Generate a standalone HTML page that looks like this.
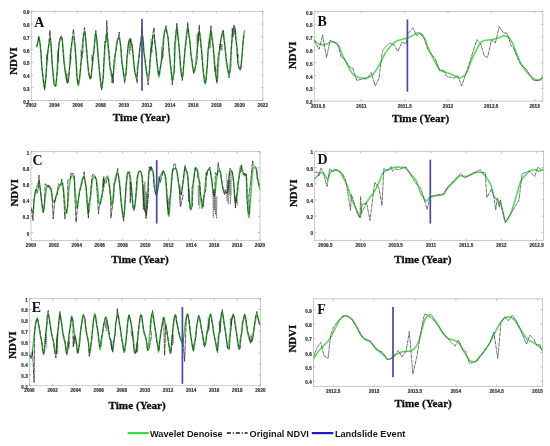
<!DOCTYPE html>
<html><head><meta charset="utf-8"><title>NDVI</title><style>
*{margin:0;padding:0}
html,body{width:550px;height:446px;overflow:hidden;background:#fff}
svg{display:block}
.t{font-family:"Liberation Sans",Arial,sans-serif;font-size:45px;font-weight:bold;fill:#333;stroke:#333;stroke-width:2px;letter-spacing:1px}
.L{font-family:"Liberation Serif","Times New Roman",serif;font-size:15.5px;font-weight:bold;fill:#111}
.N{font-family:"Liberation Serif","Times New Roman",serif;font-size:11.2px;font-weight:bold;fill:#111;stroke:#111;stroke-width:0.3px}
.V{font-size:10.8px}
.g{font-family:"Liberation Sans",Arial,sans-serif;font-size:9.2px;font-weight:bold;fill:#161616}
</style></head><body>
<svg width="550" height="446" viewBox="0 0 550 446">
<rect width="550" height="446" fill="#fff"/>
<defs><clipPath id="cA"><rect x="31.3" y="11.3" width="231.5" height="89.2"/></clipPath><clipPath id="cB"><rect x="314.2" y="11.5" width="228.6" height="89.6"/></clipPath><clipPath id="cC"><rect x="31.0" y="151.6" width="229" height="89"/></clipPath><clipPath id="cD"><rect x="314.6" y="151.3" width="228.9" height="89.1"/></clipPath><clipPath id="cE"><rect x="29.5" y="298.6" width="230.9" height="87.1"/></clipPath><clipPath id="cF"><rect x="313.5" y="298.8" width="228.9" height="87.6"/></clipPath></defs>
<g><rect x="31.3" y="11.3" width="231.5" height="89.2" fill="none" stroke="#c4c4c4" stroke-width="0.9"/><path d="M31.3 100.5h2M262.8 100.5h-2M31.3 87.76h2M262.8 87.76h-2M31.3 75.01h2M262.8 75.01h-2M31.3 62.27h2M262.8 62.27h-2M31.3 49.53h2M262.8 49.53h-2M31.3 36.79h2M262.8 36.79h-2M31.3 24.04h2M262.8 24.04h-2M31.3 11.3h2M262.8 11.3h-2M31.3 100.5v-2M31.3 11.3v2M54.45 100.5v-2M54.45 11.3v2M77.6 100.5v-2M77.6 11.3v2M100.75 100.5v-2M100.75 11.3v2M123.9 100.5v-2M123.9 11.3v2M147.05 100.5v-2M147.05 11.3v2M170.2 100.5v-2M170.2 11.3v2M193.35 100.5v-2M193.35 11.3v2M216.5 100.5v-2M216.5 11.3v2M239.65 100.5v-2M239.65 11.3v2M262.8 100.5v-2M262.8 11.3v2" stroke="#9a9a9a" stroke-width="0.6" fill="none"/><text transform="translate(29.7,103.5) scale(0.1)" text-anchor="end" class="t">0.2</text><text transform="translate(29.7,90.76) scale(0.1)" text-anchor="end" class="t">0.3</text><text transform="translate(29.7,78.01) scale(0.1)" text-anchor="end" class="t">0.4</text><text transform="translate(29.7,65.27) scale(0.1)" text-anchor="end" class="t">0.5</text><text transform="translate(29.7,52.53) scale(0.1)" text-anchor="end" class="t">0.6</text><text transform="translate(29.7,39.79) scale(0.1)" text-anchor="end" class="t">0.7</text><text transform="translate(29.7,27.04) scale(0.1)" text-anchor="end" class="t">0.8</text><text transform="translate(29.7,14.3) scale(0.1)" text-anchor="end" class="t">0.9</text><text transform="translate(31.3,107) scale(0.1)" text-anchor="middle" class="t">2002</text><text transform="translate(54.45,107) scale(0.1)" text-anchor="middle" class="t">2004</text><text transform="translate(77.6,107) scale(0.1)" text-anchor="middle" class="t">2006</text><text transform="translate(100.75,107) scale(0.1)" text-anchor="middle" class="t">2008</text><text transform="translate(123.9,107) scale(0.1)" text-anchor="middle" class="t">2010</text><text transform="translate(147.05,107) scale(0.1)" text-anchor="middle" class="t">2012</text><text transform="translate(170.2,107) scale(0.1)" text-anchor="middle" class="t">2014</text><text transform="translate(193.35,107) scale(0.1)" text-anchor="middle" class="t">2016</text><text transform="translate(216.5,107) scale(0.1)" text-anchor="middle" class="t">2018</text><text transform="translate(239.65,107) scale(0.1)" text-anchor="middle" class="t">2020</text><text transform="translate(262.8,107) scale(0.1)" text-anchor="middle" class="t">2022</text><g clip-path="url(#cA)"><polyline points="37,47.3 37.7,43.12 38.4,39.71 39.1,37.45 39.8,40.86 40.5,48.42 41.2,58.54 41.9,66.93 42.6,74.27 43.3,80.31 44,85.68 44.7,87.5 45.4,82.67 46.1,74.82 46.8,63.61 47.5,55.04 48.2,49.46 48.9,44.04 49.6,39 50.3,39.66 51,46.35 51.7,54.89 52.4,66.19 53.1,74.61 53.8,81.74 54.5,85.22 55.2,86.4 55.9,86.02 56.6,76.66 57.3,66.15 58,56.54 58.7,49.04 59.4,42.81 60.1,38.74 60.8,37.77 61.5,37.41 62.2,39.74 62.9,45.5 63.6,54.17 64.3,63.4 65,69.98 65.7,75.43 66.4,79.39 67.1,82.55 67.8,82.61 68.5,77.7 69.2,70.31 69.9,63.24 70.6,55.36 71.3,48.07 72,42.88 72.7,38.43 73.4,36.5 74.1,39.51 74.8,45.5 75.5,53.38 76.2,63.03 76.9,74.68 77.6,82.06 78.3,85.82 79,83.67 79.7,77.44 80.4,70.28 81.1,60.96 81.8,52.21 82.5,44.37 83.2,38.3 83.9,33.82 84.6,32.08 85.3,36.21 86,42.89 86.7,52.34 87.4,61.6 88.1,68.49 88.8,74.06 89.5,76.99 90.2,78.59 90.9,77.28 91.6,72.13 92.3,66.19 93,59.4 93.7,52.01 94.4,44.95 95.1,37.42 95.8,33.8 96.5,37.18 97.2,43.7 97.9,51.89 98.6,61.52 99.3,69.72 100,77.02 100.7,82.97 101.4,87.85 102.1,87.26 102.8,80.8 103.5,72.4 104.2,61.41 104.9,48.68 105.6,40.06 106.3,34.14 107,34.01 107.7,41.48 108.4,49.62 109.1,58.52 109.8,65.14 110.5,70.67 111.2,74.2 111.9,76.07 112.6,76.9 113.3,74.28 114,68.58 114.7,62.51 115.4,54.85 116.1,48.01 116.8,43.19 117.5,39.33 118.2,38.32 118.9,38.77 119.6,39.74 120.3,43.34 121,50.9 121.7,58.27 122.4,65.58 123.1,70.85 123.8,75.36 124.5,77.75 125.2,76.03 125.9,71.06 126.6,65.24 127.3,56.95 128,48.91 128.7,43.81 129.4,39.72 130.1,38.32 130.8,39.64 131.5,42.34 132.2,46.51 132.9,54.2 133.6,61.6 134.3,67.3 135,72.19 135.7,75.45 136.4,77.65 137.1,75.97 137.8,69.5 138.5,62.49 139.2,55.3 139.9,48.1 140.6,42.09 141.3,36.59 142,35.21 142.7,38.47 143.4,43.56 144.1,51.84 144.8,59.1 145.5,65.28 146.2,70.09 146.9,73.53 147.6,76.2 148.3,76.67 149,72.94 149.7,66.93 150.4,59.66 151.1,50.03 151.8,42.99 152.5,38.21 153.2,35.07 153.9,35.46 154.6,39.4 155.3,44.43 156,51.06 156.7,58.65 157.4,65.75 158.1,73.28 158.8,76.9 159.5,74.75 160.2,69.96 160.9,64.59 161.6,57.5 162.3,50.07 163,42.89 163.7,36.01 164.4,32.14 165.1,29.83 165.8,28.57 166.5,29.37 167.2,32.74 167.9,37.19 168.6,44.26 169.3,52.92 170,60.62 170.7,68.16 171.4,74.2 172.1,78.95 172.8,80.16 173.5,74.79 174.2,65.98 174.9,54.74 175.6,40.4 176.3,31.43 177,27.68 177.7,31.82 178.4,38.64 179.1,48.96 179.8,58.91 180.5,67.91 181.2,73.61 181.9,77.1 182.6,77.03 183.3,70.89 184,62.66 184.7,54.46 185.4,45.42 186.1,38.28 186.8,31.87 187.5,27.86 188.2,28.85 188.9,33.49 189.6,39.11 190.3,46.54 191,54.46 191.7,60.46 192.4,65.65 193.1,69.19 193.8,71.67 194.5,72.14 195.2,68.02 195.9,61.58 196.6,54.66 197.3,46.21 198,39.28 198.7,33.46 199.4,31.17 200.1,34.61 200.8,40.93 201.5,47.74 202.2,56.37 202.9,65.2 203.6,74.56 204.3,81.4 205,83.92 205.7,82 206.4,74.61 207.1,66.53 207.8,57.01 208.5,48.25 209.2,41.75 209.9,35.74 210.6,31.8 211.3,31.57 212,35.47 212.7,41.11 213.4,47.85 214.1,56.36 214.8,63.99 215.5,70.58 216.2,76.96 216.9,83.05 217.6,77.07 218.3,65.2 219,56.65 219.7,49.01 220.4,43.25 221.1,38.64 221.8,35.1 222.5,32.31 223.2,31.18 223.9,35.28 224.6,41.9 225.3,49.98 226,58.76 226.7,64.56 227.4,68.79 228.1,71.83 228.8,74.04 229.5,71.97 230.2,63.98 230.9,55.1 231.6,44.99 232.3,36.5 233,31.14 233.7,27.81 234.4,28.16 235.1,30.31 235.8,35.01 236.5,43.76 237.2,52.01 237.9,60.53 238.6,65.6 239.3,68.08 240,69.54 240.7,68.47 241.4,62.21 242.1,54.5 242.8,45.82 243.5,37.37 244.2,32.55 244.6,30.2" fill="none" stroke="#48c848" stroke-width="1.5" stroke-linejoin="round"/><polyline points="36.71,46.42 37.92,41.43 38.72,35.96 40.25,45.2 41.21,54.51 41.83,67.68 43.22,78.34 44.03,84.84 44.6,90.3 46.02,75.04 46.89,60.2 48.24,48.76 49.1,42.46 49.9,30.2 51.24,45.92 51.85,59.84 53.07,73.07 54.1,84.19 55.35,85.71 55.86,85.04 57.79,68.76 58.09,55.35 58.91,43.51 59.74,40.06 61.21,35.59 62.01,37.55 62.74,46.88 63.73,60.39 64.87,69.46 65.84,74.64 67.26,82.76 68.46,82.07 69.36,69.77 70.18,63.98 70.77,49.27 72.02,40.52 73.4,29.3 74.51,38.56 75.22,47.65 75.93,58.14 77.01,78.52 77.88,83.99 78.77,81.33 79.92,75.58 81.13,61.32 83.06,50.74 83.02,39.04 84.5,27.6 85.42,34.15 86.02,41.92 87.39,57.59 88.17,66.94 88.9,74.04 90.06,78.4 91.01,77.54 91.89,68.13 92.86,56.81 94.08,50.71 95.17,35.09 95.8,30.2 97,41.88 97.63,51.5 99.06,66.37 100.15,76.94 101.04,86.59 101.7,90 103.22,77.31 103.62,65.85 104.88,41.57 106.2,42.01 106.7,20.4 108.09,43.81 109.61,58.46 109.98,66.79 111.24,71.16 112.3,77.09 113.2,83.2 113.52,67.42 114.14,58.47 116.1,50.18 117.51,39.98 118.11,39.13 119.2,32 119.91,40.03 121.13,49.09 121.49,61.26 123.06,69.02 124.01,77.66 124.6,83.2 126.6,71.36 126.62,60.93 127.69,49.29 128.68,40.77 130.32,39.29 130.79,42.63 132.16,44.48 133.14,54.61 134.06,64.69 134.69,71.56 135.85,75.7 137.2,83.2 137.3,66.66 138.44,61.65 139.92,47.18 141.31,39.28 141.8,26 143.18,40.12 143.74,52.46 145.23,60.12 146.14,67.87 146.62,73.51 148.1,85 149.76,70.64 149.68,64.23 151.03,47.85 152.57,44.24 152.54,35.56 154,27.6 154.69,41.1 155.86,50.56 156.86,61.31 158.15,70.97 159.08,75.29 159.57,71.14 161.24,62.65 162.95,55.32 163.49,45.1 164.32,33.9 165.01,30.79 166,25.8 166.77,32.43 168.18,37.93 168.98,49.86 170.27,62.7 171.11,68.07 172.3,85 173.05,77.25 174.67,70.07 174.2,48.63 175.8,33.98 176.9,23.1 177.64,35.41 179.23,47.47 180.31,60.55 181.19,71.68 182.3,80.5 182.98,74.05 184.1,59.35 184.65,52.38 186.31,39.91 187.28,31.56 187.7,22.2 188.87,35.37 190.02,41.71 190.96,55.2 192.43,62.19 193.04,69.68 193.55,73.43 195.19,68.01 197.08,60.54 197.4,49.93 198.34,41.46 199.3,24.9 199.53,32.28 200.57,43.4 201.7,54.76 202.97,69.18 204.07,77.05 205.21,83.08 205.88,81.52 207.47,64.67 207.83,51.03 208.69,44.68 210.3,36.76 211,25.8 211.35,36.17 212.75,43.78 214.02,57.11 214.26,65.93 215.91,76.29 216.91,81.89 217.37,69.44 218.1,56.39 219.77,48.91 220.76,40.43 222.44,33.01 223.1,30.2 223.62,37.19 224.79,46.02 226.17,58.43 227.46,66.27 228.09,69.21 229,77.8 230.92,67.11 230.99,51.94 231.88,40.87 232.61,29.17 233.9,25 235.52,29.32 235.66,39.92 237,47.48 237.66,62.29 239.03,68.33 240.28,70.13 240.93,67.99 242.18,54.22 243.17,40.18 244.11,34.72" fill="none" stroke="#262626" stroke-width="0.8" stroke-dasharray="4,0.5,1,0.5" stroke-linejoin="round"/><polyline points="46.3,54.38 46.85,59.61 47.4,53.16 47.95,61.8" fill="none" stroke="#262626" stroke-width="0.5" stroke-dasharray="1.5,0.6"/><polyline points="57.3,50.23 57.85,60.39 58.4,51.72 58.95,61.81" fill="none" stroke="#262626" stroke-width="0.5" stroke-dasharray="1.5,0.6"/><polyline points="66,70.26 66.55,79.75 67.1,73.42 67.65,83.77" fill="none" stroke="#262626" stroke-width="0.5" stroke-dasharray="1.5,0.6"/><polyline points="69.8,54.52 70.35,59.59 70.9,56.14 71.45,60.05" fill="none" stroke="#262626" stroke-width="0.5" stroke-dasharray="1.5,0.6"/><polyline points="80.6,50.24 81.15,56.45 81.7,51.13 82.25,57.81" fill="none" stroke="#262626" stroke-width="0.5" stroke-dasharray="1.5,0.6"/><polyline points="91.3,54.75 91.85,61.14 92.4,55.77 92.95,61.8" fill="none" stroke="#262626" stroke-width="0.5" stroke-dasharray="1.5,0.6"/><polyline points="89.5,77.19 90.05,79.48 90.6,76.4 91.15,79.43" fill="none" stroke="#262626" stroke-width="0.5" stroke-dasharray="1.5,0.6"/><polyline points="111.2,74.66 111.75,82.92 112.3,73.97 112.85,82.99 113.4,73.11" fill="none" stroke="#262626" stroke-width="0.5" stroke-dasharray="1.5,0.6"/><polyline points="129.1,39.9 129.65,54.65 130.2,39.16 130.75,50.64 131.3,39.1" fill="none" stroke="#262626" stroke-width="0.5" stroke-dasharray="1.5,0.6"/><polyline points="150.8,39.04 151.35,53.11 151.9,41.14 152.45,52.41" fill="none" stroke="#262626" stroke-width="0.5" stroke-dasharray="1.5,0.6"/><polyline points="161.5,47.24 162.05,59.32 162.6,50.2 163.15,58.34" fill="none" stroke="#262626" stroke-width="0.5" stroke-dasharray="1.5,0.6"/><polyline points="196.6,35.13 197.15,44.01 197.7,33.06 198.25,41.08 198.8,33.36" fill="none" stroke="#262626" stroke-width="0.5" stroke-dasharray="1.5,0.6"/><polyline points="209.2,38.32 209.75,48.68 210.3,38.99 210.85,48.48" fill="none" stroke="#262626" stroke-width="0.5" stroke-dasharray="1.5,0.6"/><polyline points="214.7,67.95 215.25,72.25 215.8,65.76 216.35,71.66" fill="none" stroke="#262626" stroke-width="0.5" stroke-dasharray="1.5,0.6"/><polyline points="219.2,44.12 219.75,48.84 220.3,43.46 220.85,50.3 221.4,44.02 221.95,50.66 222.5,44.18" fill="none" stroke="#262626" stroke-width="0.5" stroke-dasharray="1.5,0.6"/><polyline points="231.7,28.67 232.25,36.42 232.8,29.35 233.35,37.19 233.9,27.64 234.45,34.65 235,27.6" fill="none" stroke="#262626" stroke-width="0.5" stroke-dasharray="1.5,0.6"/><polyline points="237.1,53.5 237.65,58.86 238.2,54.29 238.75,57.53" fill="none" stroke="#262626" stroke-width="0.5" stroke-dasharray="1.5,0.6"/></g><line x1="142" y1="19.1" x2="142" y2="90.7" stroke="#4646b4" stroke-width="1.7"/><text transform="translate(34.3,27.1) scale(0.9,1)" class="L">A</text><text transform="translate(16.6,61) rotate(-90)" text-anchor="middle" class="N V">NDVI</text><text x="141.4" y="120.7" text-anchor="middle" class="N">Time (Year)</text></g>
<g><rect x="314.2" y="11.5" width="228.6" height="89.6" fill="none" stroke="#c4c4c4" stroke-width="0.9"/><path d="M314.2 101.1h2M542.8 101.1h-2M314.2 88.3h2M542.8 88.3h-2M314.2 75.5h2M542.8 75.5h-2M314.2 62.7h2M542.8 62.7h-2M314.2 49.9h2M542.8 49.9h-2M314.2 37.1h2M542.8 37.1h-2M314.2 24.3h2M542.8 24.3h-2M314.2 11.5h2M542.8 11.5h-2M318.1 101.1v-2M318.1 11.5v2M361.4 101.1v-2M361.4 11.5v2M404.7 101.1v-2M404.7 11.5v2M448 101.1v-2M448 11.5v2M491.3 101.1v-2M491.3 11.5v2M534.6 101.1v-2M534.6 11.5v2" stroke="#9a9a9a" stroke-width="0.6" fill="none"/><text transform="translate(312.6,104.1) scale(0.1)" text-anchor="end" class="t">0.2</text><text transform="translate(312.6,91.3) scale(0.1)" text-anchor="end" class="t">0.3</text><text transform="translate(312.6,78.5) scale(0.1)" text-anchor="end" class="t">0.4</text><text transform="translate(312.6,65.7) scale(0.1)" text-anchor="end" class="t">0.5</text><text transform="translate(312.6,52.9) scale(0.1)" text-anchor="end" class="t">0.6</text><text transform="translate(312.6,40.1) scale(0.1)" text-anchor="end" class="t">0.7</text><text transform="translate(312.6,27.3) scale(0.1)" text-anchor="end" class="t">0.8</text><text transform="translate(312.6,14.5) scale(0.1)" text-anchor="end" class="t">0.9</text><text transform="translate(318.1,107.6) scale(0.1)" text-anchor="middle" class="t">2010.5</text><text transform="translate(361.4,107.6) scale(0.1)" text-anchor="middle" class="t">2011</text><text transform="translate(404.7,107.6) scale(0.1)" text-anchor="middle" class="t">2011.5</text><text transform="translate(448,107.6) scale(0.1)" text-anchor="middle" class="t">2012</text><text transform="translate(491.3,107.6) scale(0.1)" text-anchor="middle" class="t">2012.5</text><text transform="translate(534.6,107.6) scale(0.1)" text-anchor="middle" class="t">2013</text><g clip-path="url(#cB)"><polyline points="314.2,39.6 314.9,40.56 315.6,41.6 316.3,42.52 317,43.14 317.7,43.49 318.4,43.81 319.1,44.09 319.8,44.33 320.5,44.53 321.2,44.68 321.9,44.77 322.6,44.8 323.3,44.76 324,44.64 324.7,44.46 325.4,44.24 326.1,44 326.8,43.76 327.5,43.53 328.2,43.23 328.9,42.87 329.6,42.49 330.3,42.14 331,41.87 331.7,41.72 332.4,41.72 333.1,41.81 333.8,41.98 334.5,42.21 335.2,42.49 335.9,42.8 336.6,43.27 337.3,44 338,44.93 338.7,46.03 339.4,47.31 340.1,49.22 340.8,51.38 341.5,53.23 342.2,54.73 342.9,56.09 343.6,57.4 344.3,58.71 345,60.1 345.7,61.54 346.4,62.99 347.1,64.42 347.8,65.8 348.5,67.1 349.2,68.37 349.9,69.65 350.6,70.87 351.3,71.99 352,72.95 352.7,73.71 353.4,74.39 354.1,75.03 354.8,75.61 355.5,76.11 356.2,76.52 356.9,76.83 357.6,77.05 358.3,77.26 359,77.45 359.7,77.62 360.4,77.78 361.1,77.9 361.8,78 362.5,78.07 363.2,78.1 363.9,78.09 364.6,78.06 365.3,78 366,77.93 366.7,77.84 367.4,77.73 368.1,77.53 368.8,77.25 369.5,76.9 370.2,76.5 370.9,76.06 371.6,75.59 372.3,74.98 373,74.25 373.7,73.41 374.4,72.5 375.1,71.55 375.8,70.58 376.5,69.59 377.2,68.52 377.9,67.38 378.6,66.18 379.3,64.94 380,63.68 380.7,62.4 381.4,61.05 382.1,59.6 382.8,58.09 383.5,56.59 384.2,55.16 384.9,53.84 385.6,52.69 386.3,51.63 387,50.62 387.7,49.66 388.4,48.75 389.1,47.9 389.8,47.08 390.5,46.32 391.2,45.59 391.9,44.87 392.6,44.17 393.3,43.49 394,42.85 394.7,42.28 395.4,41.77 396.1,41.35 396.8,41.02 397.5,40.73 398.2,40.47 398.9,40.24 399.6,40.03 400.3,39.83 401,39.64 401.7,39.46 402.4,39.28 403.1,39.1 403.8,38.94 404.5,38.79 405.2,38.65 405.9,38.5 406.6,38.33 407.3,38.13 408,37.88 408.7,37.56 409.4,37.19 410.1,36.79 410.8,36.39 411.5,36 412.2,35.65 412.9,35.29 413.6,34.88 414.3,34.47 415,34.06 415.7,33.69 416.4,33.36 417.1,33.11 417.8,32.95 418.5,32.9 419.2,33 419.9,33.24 420.6,33.58 421.3,33.98 422,34.5 422.7,35.36 423.4,36.45 424.1,37.69 424.8,38.99 425.5,40.51 426.2,42.29 426.9,44.16 427.6,45.98 428.3,47.63 429,49.22 429.7,50.78 430.4,52.31 431.1,53.81 431.8,55.3 432.5,56.79 433.2,58.28 433.9,59.74 434.6,61.15 435.3,62.49 436,63.73 436.7,65 437.4,66.28 438.1,67.5 438.8,68.59 439.5,69.5 440.2,70.17 440.9,70.58 441.6,70.93 442.3,71.21 443,71.46 443.7,71.68 444.4,71.88 445.1,72.08 445.8,72.29 446.5,72.53 447.2,72.79 447.9,73.05 448.6,73.3 449.3,73.56 450,73.83 450.7,74.09 451.4,74.36 452.1,74.64 452.8,74.92 453.5,75.22 454.2,75.59 454.9,75.99 455.6,76.4 456.3,76.81 457,77.17 457.7,77.47 458.4,77.69 459.1,77.79 459.8,77.77 460.5,77.64 461.2,77.42 461.9,77.14 462.6,76.81 463.3,76.45 464,75.94 464.7,75.23 465.4,74.37 466.1,73.38 466.8,72.29 467.5,71.07 468.2,69.46 468.9,67.56 469.6,65.48 470.3,63.37 471,61.34 471.7,59.53 472.4,57.95 473.1,56.45 473.8,55.01 474.5,53.62 475.2,52.26 475.9,50.93 476.6,49.61 477.3,48.24 478,46.85 478.7,45.53 479.4,44.38 480.1,43.49 480.8,42.73 481.5,42.03 482.2,41.43 482.9,40.97 483.6,40.7 484.3,40.55 485,40.43 485.7,40.33 486.4,40.25 487.1,40.18 487.8,40.12 488.5,40.06 489.2,39.99 489.9,39.91 490.6,39.82 491.3,39.7 492,39.59 492.7,39.46 493.4,39.33 494.1,39.19 494.8,39.04 495.5,38.88 496.2,38.71 496.9,38.53 497.6,38.31 498.3,38.01 499,37.67 499.7,37.3 500.4,36.92 501.1,36.55 501.8,36.23 502.5,35.96 503.2,35.78 503.9,35.7 504.6,35.74 505.3,35.87 506,36.09 506.7,36.37 507.4,36.7 508.1,37.05 508.8,37.59 509.5,38.35 510.2,39.29 510.9,40.36 511.6,41.5 512.3,42.73 513,44.24 513.7,45.97 514.4,47.81 515.1,49.65 515.8,51.4 516.5,53.1 517.2,54.83 517.9,56.57 518.6,58.28 519.3,59.9 520,61.41 520.7,62.77 521.4,64.05 522.1,65.26 522.8,66.42 523.5,67.52 524.2,68.56 524.9,69.55 525.6,70.49 526.3,71.37 527,72.23 527.7,73.04 528.4,73.82 529.1,74.57 529.8,75.27 530.5,75.93 531.2,76.55 531.9,77.14 532.6,77.77 533.3,78.41 534,79 534.7,79.5 535.4,79.85 536.1,80 536.8,79.99 537.5,79.95 538.2,79.87 538.9,79.77 539.6,79.63 540.3,79.47 541,79.26 541.7,78.58 542.4,77.54 542.8,77" fill="none" stroke="#5cd85c" stroke-width="1.6" stroke-linejoin="round"/><polyline points="314.2,40.4 319.1,49.5 322.6,34.9 326.5,57.7 330.1,40.1 335.9,43.6 338.3,45.9 341.4,57.4 343.8,58.5 350.5,67.9 352.7,67.9 356.8,80.5 362.6,78.9 366.5,78.9 371.3,72.6 375.2,86 379.1,78.1 382.3,51.4 385.4,46.7 390.1,42.8 394.1,45.1 398,51.4 401.9,42 406.1,43.9 408.2,33.4 412.9,27.9 416.8,35.7 420,33.4 423.9,38.1 427.9,49.8 431.8,55.3 434.9,57.7 439.6,70.3 443.6,70.3 446.7,76.5 450.6,77.3 454.6,78.1 457.7,75.3 461.6,86 467.1,70.3 472.6,53 476.9,39.6 480.5,43.5 484.4,56.1 487.6,57.4 491.5,40.1 495.4,42.8 499.3,26.6 503.3,32.9 507.2,33.3 511.1,45.9 513.5,47.9 519,61.6 522.1,66.3 526,68.7 529.9,74.9 533.4,80.4 540.1,80.4 542.8,76.5" fill="none" stroke="#505050" stroke-width="0.85" stroke-dasharray="3,0.5,1,0.5" stroke-linejoin="round"/></g><line x1="407.4" y1="19.5" x2="407.4" y2="91.7" stroke="#4646b4" stroke-width="1.7"/><text transform="translate(317.5,25.9) scale(0.9,1)" class="L">B</text><text transform="translate(296.20000000000005,55.3) rotate(-90)" text-anchor="middle" class="N V">NDVI</text><text x="420.6" y="122.0" text-anchor="middle" class="N">Time (Year)</text></g>
<g><rect x="31" y="151.6" width="229" height="89" fill="none" stroke="#c4c4c4" stroke-width="0.9"/><path d="M31 232.51h2M260 232.51h-2M31 216.33h2M260 216.33h-2M31 200.15h2M260 200.15h-2M31 183.96h2M260 183.96h-2M31 167.78h2M260 167.78h-2M31 151.6h2M260 151.6h-2M31 240.6v-2M31 151.6v2M53.9 240.6v-2M53.9 151.6v2M76.8 240.6v-2M76.8 151.6v2M99.7 240.6v-2M99.7 151.6v2M122.6 240.6v-2M122.6 151.6v2M145.5 240.6v-2M145.5 151.6v2M168.4 240.6v-2M168.4 151.6v2M191.3 240.6v-2M191.3 151.6v2M214.2 240.6v-2M214.2 151.6v2M237.1 240.6v-2M237.1 151.6v2M260 240.6v-2M260 151.6v2" stroke="#9a9a9a" stroke-width="0.6" fill="none"/><text transform="translate(29.4,235.51) scale(0.1)" text-anchor="end" class="t">0</text><text transform="translate(29.4,219.33) scale(0.1)" text-anchor="end" class="t">0.2</text><text transform="translate(29.4,203.15) scale(0.1)" text-anchor="end" class="t">0.4</text><text transform="translate(29.4,186.96) scale(0.1)" text-anchor="end" class="t">0.6</text><text transform="translate(29.4,170.78) scale(0.1)" text-anchor="end" class="t">0.8</text><text transform="translate(29.4,154.6) scale(0.1)" text-anchor="end" class="t">1</text><text transform="translate(31,247.1) scale(0.1)" text-anchor="middle" class="t">2000</text><text transform="translate(53.9,247.1) scale(0.1)" text-anchor="middle" class="t">2002</text><text transform="translate(76.8,247.1) scale(0.1)" text-anchor="middle" class="t">2004</text><text transform="translate(99.7,247.1) scale(0.1)" text-anchor="middle" class="t">2006</text><text transform="translate(122.6,247.1) scale(0.1)" text-anchor="middle" class="t">2008</text><text transform="translate(145.5,247.1) scale(0.1)" text-anchor="middle" class="t">2010</text><text transform="translate(168.4,247.1) scale(0.1)" text-anchor="middle" class="t">2012</text><text transform="translate(191.3,247.1) scale(0.1)" text-anchor="middle" class="t">2014</text><text transform="translate(214.2,247.1) scale(0.1)" text-anchor="middle" class="t">2016</text><text transform="translate(237.1,247.1) scale(0.1)" text-anchor="middle" class="t">2018</text><text transform="translate(260,247.1) scale(0.1)" text-anchor="middle" class="t">2020</text><g clip-path="url(#cC)"><polyline points="31.2,207.5 31.9,210.15 32.6,212.52 33.3,211.59 34,201.81 34.7,193.7 35.4,191.63 36.1,190.22 36.8,188.21 37.5,185.45 38.2,182.97 38.9,181.9 39.6,184.48 40.3,189.79 41,195.3 41.7,202.63 42.4,209.29 43.1,212.2 43.8,209.72 44.5,203.96 45.2,197.44 45.9,192.42 46.6,187.69 47.3,185.3 48,185.47 48.7,185.89 49.4,186.46 50.1,187.42 50.8,188.87 51.5,192.69 52.2,197.88 52.9,201.63 53.6,201.97 54.3,201.27 55,200.23 55.7,198.07 56.4,195.02 57.1,192.13 57.8,190.2 58.5,188.63 59.2,187.28 59.9,186.1 60.6,184.9 61.3,183.73 62,182.9 62.7,183.02 63.4,188.14 64.1,196.43 64.8,203.95 65.5,208.62 66.2,212.45 66.9,213.09 67.6,206.75 68.3,196.81 69,188.6 69.7,183.06 70.4,178.74 71.1,176.79 71.8,175.59 72.5,175.21 73.2,176.05 73.9,177.86 74.6,182.16 75.3,191.03 76,199.16 76.7,206.98 77.4,208.11 78.1,202.73 78.8,195.9 79.5,191.41 80.2,187.85 80.9,184.91 81.6,182.05 82.3,179.46 83,177.88 83.7,177.87 84.4,178.85 85.1,180.52 85.8,185.74 86.5,193.34 87.2,201.71 87.9,211.06 88.6,213.61 89.3,208.91 90,201.11 90.7,193.61 91.4,188.14 92.1,182.58 92.8,178.31 93.5,176.9 94.2,176.98 94.9,177.19 95.6,177.52 96.3,178.86 97,183.75 97.7,189.38 98.4,196.62 99.1,203.16 99.8,204.35 100.5,203.03 101.2,200.71 101.9,197.55 102.6,190.43 103.3,184.03 104,181.85 104.7,180.41 105.4,179.3 106.1,178.14 106.8,176.8 107.5,176.02 108.2,177.57 108.9,181.72 109.6,186.69 110.3,194.18 111,201.49 111.7,205.33 112.4,203.22 113.1,196.94 113.8,189.56 114.5,183.9 115.2,178.84 115.9,175.41 116.6,174.28 117.3,173.61 118,173.84 118.7,176.64 119.4,180.9 120.1,189.05 120.8,198.39 121.5,204.94 122.2,211.13 122.9,215.72 123.6,217.12 124.3,212.57 125,203.55 125.7,193.49 126.4,184.93 127.1,175.61 127.8,171.81 128.5,172.37 129.2,173.68 129.9,175.59 130.6,178.51 131.3,185.34 132,193.08 132.7,202.7 133.4,210 134.1,209.65 134.8,206.17 135.5,201.04 136.2,195.4 136.9,187.4 137.6,178.54 138.3,173.48 139,171 139.7,171.1 140.4,171.4 141.1,171.95 141.8,176.12 142.5,183.23 143.2,192.3 143.9,203.94 144.6,209.58 145.3,211.67 146,211.74 146.7,204.92 147.4,195.4 148.1,183.99 148.8,173.12 149.5,169.85 150.2,168.35 150.9,167.64 151.6,167.86 152.3,168.96 153,170.85 153.7,176.28 154.4,182.82 155.1,188.83 155.8,194.28 156.5,195.06 157.2,192.24 157.9,187.99 158.6,184.04 159.3,181.02 160,178.06 160.7,175.56 161.4,173.91 162.1,172.61 162.8,171.57 163.5,171.03 164.2,171.9 164.9,175.33 165.6,180.04 166.3,188.23 167,197.53 167.7,206.84 168.4,215.43 169.1,216.1 169.8,207.61 170.5,197 171.2,185.56 171.9,174.85 172.6,170.84 173.3,168.85 174,168.5 174.7,168.5 175.4,168.5 176.1,168.5 176.8,170.49 177.5,175.61 178.2,180.6 178.9,186.11 179.6,190.3 180.3,192.85 181,194.4 181.7,193.08 182.4,188.16 183.1,182.91 183.8,176.18 184.5,169.88 185.2,167.62 185.9,168.81 186.6,171.32 187.3,174.56 188,180.25 188.7,187.54 189.4,197.5 190.1,208.19 190.8,209.9 191.5,204.85 192.2,197.06 192.9,189.49 193.6,182.58 194.3,174.9 195,169.1 195.7,167.63 196.4,168.15 197.1,169.13 197.8,171.36 198.5,175.64 199.2,181.13 199.9,189.35 200.6,197 201.3,203.41 202,208.2 202.7,207.82 203.4,202.55 204.1,195.19 204.8,188.6 205.5,182.68 206.2,176.61 206.9,172.15 207.6,170.64 208.3,169.96 209,169.49 209.7,169.3 210.4,170.62 211.1,174.5 211.8,179.37 212.5,187.5 213.2,192.92 213.9,195.51 214.6,195.86 215.3,190.93 216,184.35 216.7,178.6 217.4,172.78 218.1,170.1 218.8,170.34 219.5,170.99 220.2,172 220.9,175.61 221.6,180.66 222.3,185.14 223,189.57 223.7,191.42 224.4,192.06 225.1,192.52 225.8,192.8 226.5,192.9 227.2,192.05 227.9,189.84 228.6,184.04 229.3,172.87 230,171.45 230.7,171.14 231.4,171.01 232.1,171.78 232.8,174.74 233.5,179.51 234.2,190.11 234.9,200.05 235.6,201.85 236.3,199.68 237,196.06 237.7,191.28 238.4,182.78 239.1,175.2 239.8,170 240.5,166.35 241.2,166.29 241.9,168.22 242.6,170.39 243.3,173.03 244,175.06 244.7,174.85 245.4,173.85 246.1,174.36 246.8,185.25 247.5,198.54 248.2,213.52 248.9,217.72 249.6,211.68 250.3,201.79 251,192.5 251.7,182.14 252.4,172.1 253.1,167.6 253.8,167.65 254.5,167.81 255.2,168.07 255.9,168.44 256.6,170.72 257.3,176.1 258,181.35 258.7,184.69 259.4,187.55 260,190" fill="none" stroke="#48c848" stroke-width="1.5" stroke-linejoin="round"/><polyline points="30.89,208.62 31.7,210.12 33,220.6 33.9,200.99 35.44,190.92 36.14,189.05 36.97,193.46 38.49,188.44 38.9,175.2 40.13,188.09 41.33,198.58 41.93,203.07 43.45,212.39 44.41,204.77 44.95,193.36 45.15,183.74 48.47,187.49 48.23,185.75 50.21,186.58 49.98,189.28 51.48,189.03 52.06,195.41 53.2,218.9 54.74,200.3 54.67,202.32 56.13,195.37 57.35,194.61 58.31,183.86 59.75,185.22 61.09,182.37 61.85,179.1 62.29,186.5 63.09,187.88 63.83,196.12 64.8,218.9 66.03,212.33 67.55,207.18 67.82,200.37 67.78,180.12 70.71,178.27 70.67,173.16 71.77,173.84 73.13,173.39 74.36,175.78 74.4,187.76 76.1,222.3 77.26,208.13 77.95,201.98 78.41,199.84 79.73,191.24 82.24,182.76 81.91,182.17 83.59,175.73 84.2,171.8 85.05,182.07 86.35,187.33 87.05,203.22 88.4,218.1 88.68,203.03 90.74,196.41 90.96,188.25 91.94,176.9 92.69,174.42 94.8,175.08 95.44,178.33 96.16,179.02 96.97,190.68 98.5,213.9 99.3,206.03 100.39,204.01 100.25,201.63 103.26,189.8 103.9,176.35 103.53,178.7 104.83,182.2 105.91,183.38 107.31,178.24 108.15,178.57 108.66,181.92 110.69,196.11 110.9,218 112.84,202.94 113.86,195.76 114.08,182.95 115.35,182.44 116.5,175.82 117.7,168.5 118.15,175.21 119,180.46 120.21,189.64 120.94,199.7 122.02,208.56 123.5,221.4 124.23,214.5 124.86,205.07 126.02,184.07 127.18,174.82 128.32,172.91 129.82,171.71 130.3,203 130.73,182.02 132.24,197.98 133,207.45 134.35,209.52 134.94,204.89 135.84,194.24 136.92,178.19 137.9,172.71 138.41,172.86 139.98,171.12 141.2,172.69 142.6,177.89 143.1,192.58 144.08,208.94 145.39,211.53 146.46,215.43 148.37,197.22 148.57,178.84 149.19,166.73 150.73,170.95 151.1,166 152.04,170.79 153.25,172.95 153.65,184.34 155.08,192.28 155.91,194.64 156.99,193.54 157.76,190.94 159.06,176.4 160.12,182.63 161.5,178.07 162.33,175.28 162.92,170.65 163.77,172.5 165.61,174.98 166.67,187 167.05,198.72 168.39,213.64 168.66,214.27 169.35,202.13 171.05,189.06 172.8,169.45 172.82,171.04 173.89,164.21 175.73,164.18 175.58,168.26 177.41,173.28 178.36,181.49 179.13,184.92 180.4,207.1 183.23,194.98 181.31,194.6 182.98,181.69 184.08,173.73 184.95,165.52 185.76,169.39 187.73,173.1 188.27,183.67 188.62,192.15 189.97,207.48 191.43,209.23 192.58,205.1 191.93,188.4 194.14,176.9 195.3,167.4 196.33,170.12 197.33,170.38 197.6,177.11 199.81,181.79 200.27,191.05 201.8,201.36 203.14,206.75 203.08,199.82 202.94,200.25 206.01,188.97 206.09,172.74 207.01,175.44 207.79,170.6 209.88,167.22 210.05,170.68 210.74,175.03 212.05,182.21 212.82,189.03 214.35,196.25 214.76,193.31 215.34,172.58 217.53,175.87 218.1,162.6 219.44,169.72 220.62,172.23 221.08,177.23 221.99,182.78 223.27,189.74 224.49,194.59 225.2,189.67 226.31,193.83 227.18,192.73 228.39,186.42 229.45,172.99 229.94,168.33 231.04,169.32 232.21,172.12 232.98,177.55 234.24,188.32 235.38,208.07 236.19,198.28 236.72,195.39 237.65,184.57 239.95,173.5 240.51,170.28 241.6,164.9 241.92,171.87 243.82,174.92 244.7,173.11 245.24,176.2 246.58,174.05 246.71,197.57 248.2,212.75 249.46,213.92 248.84,196.29 250.43,183.77 252.6,160.9 253.6,165.49 254,165.27 255.3,166.68 256.73,168.44 257.07,178.16 257.76,178.99 259.18,185.65" fill="none" stroke="#262626" stroke-width="0.8" stroke-dasharray="4,0.5,1,0.5" stroke-linejoin="round"/><polyline points="102.5,179.26 103.05,187.56 103.6,178.55 104.15,187.43 104.7,181.15" fill="none" stroke="#262626" stroke-width="0.5" stroke-dasharray="1.5,0.6"/><polyline points="142.7,188.64 143.25,209.8 143.8,184.5 144.35,209.72 144.9,181.68 145.45,218.29 146,191.61 146.55,218.88 147.1,193.36 147.65,207.71" fill="none" stroke="#262626" stroke-width="0.5" stroke-dasharray="1.5,0.6"/><polyline points="167,200.3 167.55,208.8 168.1,197.87 168.65,205.43" fill="none" stroke="#262626" stroke-width="0.5" stroke-dasharray="1.5,0.6"/><polyline points="179.6,188.33 180.15,202.17 180.7,185.94" fill="none" stroke="#262626" stroke-width="0.5" stroke-dasharray="1.5,0.6"/><polyline points="188,185.37 188.55,201.35 189.1,189.58 189.65,201.03" fill="none" stroke="#262626" stroke-width="0.5" stroke-dasharray="1.5,0.6"/><polyline points="198,185.12 198.55,204.91 199.1,185.47 199.65,209.38" fill="none" stroke="#262626" stroke-width="0.5" stroke-dasharray="1.5,0.6"/><polyline points="212.7,191.81 213.25,217.76 213.8,189.56 214.35,210.2 214.9,190.04 215.45,214.83 216,196.91 216.55,218.33 217.1,195.9" fill="none" stroke="#262626" stroke-width="0.5" stroke-dasharray="1.5,0.6"/><polyline points="226.5,173.56 227.05,201.07 227.6,180.1 228.15,204.17 228.7,179.92 229.25,194.57 229.8,180.27 230.35,204.25 230.9,172.01 231.45,195.23" fill="none" stroke="#262626" stroke-width="0.5" stroke-dasharray="1.5,0.6"/><polyline points="235,195.99 235.55,206.98 236.1,197.15 236.65,203.36 237.2,198.43 237.75,206.31" fill="none" stroke="#262626" stroke-width="0.5" stroke-dasharray="1.5,0.6"/></g><line x1="156.7" y1="160.1" x2="156.7" y2="223.6" stroke="#4646b4" stroke-width="1.7"/><text transform="translate(32.5,165.1) scale(0.9,1)" class="L">C</text><text transform="translate(17.5,192.8) rotate(-90)" text-anchor="middle" class="N V">NDVI</text><text x="140" y="263.0" text-anchor="middle" class="N">Time (Year)</text></g>
<g><rect x="314.6" y="151.3" width="228.9" height="89.1" fill="none" stroke="#c4c4c4" stroke-width="0.9"/><path d="M314.6 232.3h2M543.5 232.3h-2M314.6 216.1h2M543.5 216.1h-2M314.6 199.9h2M543.5 199.9h-2M314.6 183.7h2M543.5 183.7h-2M314.6 167.5h2M543.5 167.5h-2M314.6 151.3h2M543.5 151.3h-2M325.4 240.4v-2M325.4 151.3v2M360.6 240.4v-2M360.6 151.3v2M395.8 240.4v-2M395.8 151.3v2M431 240.4v-2M431 151.3v2M466.2 240.4v-2M466.2 151.3v2M501.4 240.4v-2M501.4 151.3v2M536.6 240.4v-2M536.6 151.3v2" stroke="#9a9a9a" stroke-width="0.6" fill="none"/><text transform="translate(313,235.3) scale(0.1)" text-anchor="end" class="t">0</text><text transform="translate(313,219.1) scale(0.1)" text-anchor="end" class="t">0.2</text><text transform="translate(313,202.9) scale(0.1)" text-anchor="end" class="t">0.4</text><text transform="translate(313,186.7) scale(0.1)" text-anchor="end" class="t">0.6</text><text transform="translate(313,170.5) scale(0.1)" text-anchor="end" class="t">0.8</text><text transform="translate(313,154.3) scale(0.1)" text-anchor="end" class="t">1</text><text transform="translate(325.4,246.9) scale(0.1)" text-anchor="middle" class="t">2009.5</text><text transform="translate(360.6,246.9) scale(0.1)" text-anchor="middle" class="t">2010</text><text transform="translate(395.8,246.9) scale(0.1)" text-anchor="middle" class="t">2010.5</text><text transform="translate(431,246.9) scale(0.1)" text-anchor="middle" class="t">2011</text><text transform="translate(466.2,246.9) scale(0.1)" text-anchor="middle" class="t">2011.5</text><text transform="translate(501.4,246.9) scale(0.1)" text-anchor="middle" class="t">2012</text><text transform="translate(536.6,246.9) scale(0.1)" text-anchor="middle" class="t">2012.5</text><g clip-path="url(#cD)"><polyline points="314.6,179.2 315.3,178.36 316,177.5 316.7,176.65 317.4,175.88 318.1,175.22 318.8,174.55 319.5,173.88 320.2,173.28 320.9,172.84 321.6,172.61 322.3,172.71 323,173.17 323.7,173.91 324.4,174.8 325.1,175.74 325.8,176.63 326.5,177.85 327.2,178.97 327.9,179.02 328.6,177.51 329.3,175.27 330,173.27 330.7,172.3 331.4,171.62 332.1,171.02 332.8,170.51 333.5,170.11 334.2,169.83 334.9,169.71 335.6,169.73 336.3,169.84 337,170.04 337.7,170.31 338.4,170.64 339.1,171 339.8,171.61 340.5,172.59 341.2,173.83 341.9,175.19 342.6,176.56 343.3,177.83 344,179.08 344.7,180.34 345.4,181.66 346.1,183.05 346.8,184.56 347.5,186.2 348.2,188.11 348.9,190.45 349.6,192.97 350.3,195.39 351,197.45 351.7,199.29 352.4,201.02 353.1,202.66 353.8,204.23 354.5,205.76 355.2,207.26 355.9,208.8 356.6,210.55 357.3,212.37 358,214.12 358.7,215.62 359.4,216.72 360.1,217.27 360.8,214.39 361.5,206.98 362.2,205.03 362.9,204.46 363.6,204.09 364.3,203.83 365,203.53 365.7,203.08 366.4,202.4 367.1,201.52 367.8,200.52 368.5,199.45 369.2,198.4 369.9,197.43 370.6,196.52 371.3,195.64 372,194.76 372.7,193.86 373.4,192.9 374.1,191.87 374.8,190.73 375.5,189.47 376.2,188.11 376.9,186.67 377.6,185.19 378.3,183.69 379,182.21 379.7,180.64 380.4,178.86 381.1,177.01 381.8,175.23 382.5,173.66 383.2,172.45 383.9,171.73 384.6,171.28 385.3,170.92 386,170.62 386.7,170.36 387.4,170.12 388.1,169.88 388.8,169.62 389.5,169.33 390.2,169.03 390.9,168.72 391.6,168.41 392.3,168.11 393,167.83 393.7,167.59 394.4,167.38 395.1,167.22 395.8,167.13 396.5,167.1 397.2,167.1 397.9,167.11 398.6,167.13 399.3,167.15 400,167.18 400.7,167.21 401.4,167.25 402.1,167.3 402.8,167.35 403.5,167.42 404.2,167.49 404.9,167.71 405.6,168.26 406.3,169 407,169.78 407.7,170.5 408.4,171.25 409.1,172.06 409.8,172.89 410.5,173.75 411.2,174.61 411.9,175.46 412.6,176.27 413.3,177.01 414,177.75 414.7,178.55 415.4,179.47 416.1,180.58 416.8,182.14 417.5,184.11 418.2,186.25 418.9,188.3 419.6,190.13 420.3,191.94 421,193.61 421.7,194.94 422.4,195.96 423.1,196.9 423.8,198 424.5,199.22 425.2,200.29 425.9,200.98 426.6,201.04 427.3,200.48 428,199.55 428.7,198.49 429.4,197.54 430.1,196.94 430.8,196.71 431.5,196.53 432.2,196.38 432.9,196.26 433.6,196.15 434.3,196.04 435,195.93 435.7,195.8 436.4,195.67 437.1,195.56 437.8,195.45 438.5,195.36 439.2,195.26 439.9,195.15 440.6,195.03 441.3,194.88 442,194.72 442.7,194.52 443.4,194.28 444.1,193.85 444.8,192.96 445.5,191.75 446.2,190.42 446.9,189.17 447.6,188.18 448.3,187.36 449,186.59 449.7,185.87 450.4,185.17 451.1,184.51 451.8,183.85 452.5,183.21 453.2,182.56 453.9,181.9 454.6,181.18 455.3,180.38 456,179.54 456.7,178.71 457.4,177.91 458.1,177.18 458.8,176.56 459.5,176.08 460.2,175.79 460.9,175.7 461.6,175.81 462.3,176.01 463,176.25 463.7,176.44 464.4,176.5 465.1,176.45 465.8,176.34 466.5,176.18 467.2,175.98 467.9,175.75 468.6,175.51 469.3,175.25 470,175 470.7,174.75 471.4,174.43 472.1,174.06 472.8,173.68 473.5,173.32 474.2,173.02 474.9,172.82 475.6,172.7 476.3,172.58 477,172.48 477.7,172.38 478.4,172.31 479.1,172.25 479.8,172.21 480.5,172.2 481.2,172.33 481.9,172.69 482.6,173.22 483.3,173.85 484,174.52 484.7,175.19 485.4,176 486.1,176.94 486.8,177.98 487.5,179.09 488.2,180.23 488.9,181.39 489.6,182.57 490.3,183.89 491,185.42 491.7,187.34 492.4,190.57 493.1,194.12 493.8,196.4 494.5,197.32 495.2,197.96 495.9,198.45 496.6,198.91 497.3,199.47 498,200.25 498.7,201.22 499.4,202.34 500.1,203.61 500.8,205.04 501.5,206.62 502.2,208.66 502.9,211.68 503.6,215.09 504.3,218.24 505,220.49 505.7,221.19 506.4,220.88 507.1,220.16 507.8,219.12 508.5,217.85 509.2,216.44 509.9,215 510.6,213.58 511.3,211.9 512,209.96 512.7,207.82 513.4,205.56 514.1,203.23 514.8,200.9 515.5,198.63 516.2,196.43 516.9,194.05 517.6,191.56 518.3,189.04 519,186.61 519.7,184.36 520.4,182.38 521.1,180.78 521.8,179.56 522.5,178.53 523.2,177.62 523.9,176.81 524.6,176.05 525.3,175.29 526,174.51 526.7,173.72 527.4,172.97 528.1,172.27 528.8,171.67 529.5,171.2 530.2,170.87 530.9,170.58 531.6,170.32 532.3,170.08 533,169.9 533.7,169.77 534.4,169.7 535.1,169.74 535.8,169.9 536.5,170.15 537.2,170.43 537.9,170.7 538.6,170.9 539.3,171 540,170.95 540.7,170.78 541.4,170.53 542.1,170.24 542.8,169.95 543.5,169.7" fill="none" stroke="#5cd85c" stroke-width="1.6" stroke-linejoin="round"/><polyline points="314.6,172.6 317.9,171.8 319.1,175.7 320.7,167.9 323.4,172.6 327,186.7 329.6,168.6 332.8,171.8 335.9,170.2 339.8,171.8 343,174.1 346.1,182 349.3,202.4 350.5,210.3 351.6,194.6 355.5,207.1 360,217.8 360.6,196.4 361.5,213.4 366.5,202.4 370,220.5 374.7,182.3 379.1,188.3 382,205.5 383.8,168.6 387,170.7 390.9,166.6 392.5,171.3 394.8,168.6 398,169.7 406.1,167.1 410.5,174.4 415.3,182.8 420.8,188.3 423.9,198.5 427.1,209.5 430.2,196.9 435.7,195.3 443.6,193.8 446.7,188.3 453.8,180.4 460.8,173.4 464.8,178.1 470.3,174.9 475,172.2 480.5,169.7 482.1,172.6 485.2,172.6 486.8,197.7 491.5,189 493.8,195.8 495.7,209.9 497.3,198.5 499.3,207.1 500.6,200 501.7,207.1 505.3,222.8 519,200 522.1,173.8 529.2,171 534.6,176.5 537.8,167.1 540.9,169.4 543.5,169.1" fill="none" stroke="#505050" stroke-width="0.85" stroke-dasharray="3,0.5,1,0.5" stroke-linejoin="round"/></g><line x1="430.3" y1="159.7" x2="430.3" y2="223.6" stroke="#4646b4" stroke-width="1.7"/><text transform="translate(317.5,163.8) scale(0.9,1)" class="L">D</text><text transform="translate(297.20000000000005,193.2) rotate(-90)" text-anchor="middle" class="N V">NDVI</text><text x="422.9" y="263.3" text-anchor="middle" class="N">Time (Year)</text></g>
<g><rect x="29.5" y="298.6" width="230.9" height="87.1" fill="none" stroke="#c4c4c4" stroke-width="0.9"/><path d="M29.5 385.7h2M260.4 385.7h-2M29.5 374.81h2M260.4 374.81h-2M29.5 363.93h2M260.4 363.93h-2M29.5 353.04h2M260.4 353.04h-2M29.5 342.15h2M260.4 342.15h-2M29.5 331.26h2M260.4 331.26h-2M29.5 320.38h2M260.4 320.38h-2M29.5 309.49h2M260.4 309.49h-2M29.5 298.6h2M260.4 298.6h-2M29.5 385.7v-2M29.5 298.6v2M52.59 385.7v-2M52.59 298.6v2M75.68 385.7v-2M75.68 298.6v2M98.77 385.7v-2M98.77 298.6v2M121.86 385.7v-2M121.86 298.6v2M144.95 385.7v-2M144.95 298.6v2M168.04 385.7v-2M168.04 298.6v2M191.13 385.7v-2M191.13 298.6v2M214.22 385.7v-2M214.22 298.6v2M237.31 385.7v-2M237.31 298.6v2M260.4 385.7v-2M260.4 298.6v2" stroke="#9a9a9a" stroke-width="0.6" fill="none"/><text transform="translate(27.9,388.7) scale(0.1)" text-anchor="end" class="t">0.2</text><text transform="translate(27.9,377.81) scale(0.1)" text-anchor="end" class="t">0.3</text><text transform="translate(27.9,366.93) scale(0.1)" text-anchor="end" class="t">0.4</text><text transform="translate(27.9,356.04) scale(0.1)" text-anchor="end" class="t">0.5</text><text transform="translate(27.9,345.15) scale(0.1)" text-anchor="end" class="t">0.6</text><text transform="translate(27.9,334.26) scale(0.1)" text-anchor="end" class="t">0.7</text><text transform="translate(27.9,323.38) scale(0.1)" text-anchor="end" class="t">0.8</text><text transform="translate(27.9,312.49) scale(0.1)" text-anchor="end" class="t">0.9</text><text transform="translate(27.9,301.6) scale(0.1)" text-anchor="end" class="t">1</text><text transform="translate(29.5,392.2) scale(0.1)" text-anchor="middle" class="t">2000</text><text transform="translate(52.59,392.2) scale(0.1)" text-anchor="middle" class="t">2002</text><text transform="translate(75.68,392.2) scale(0.1)" text-anchor="middle" class="t">2004</text><text transform="translate(98.77,392.2) scale(0.1)" text-anchor="middle" class="t">2006</text><text transform="translate(121.86,392.2) scale(0.1)" text-anchor="middle" class="t">2008</text><text transform="translate(144.95,392.2) scale(0.1)" text-anchor="middle" class="t">2010</text><text transform="translate(168.04,392.2) scale(0.1)" text-anchor="middle" class="t">2012</text><text transform="translate(191.13,392.2) scale(0.1)" text-anchor="middle" class="t">2014</text><text transform="translate(214.22,392.2) scale(0.1)" text-anchor="middle" class="t">2016</text><text transform="translate(237.31,392.2) scale(0.1)" text-anchor="middle" class="t">2018</text><text transform="translate(260.4,392.2) scale(0.1)" text-anchor="middle" class="t">2020</text><g clip-path="url(#cE)"><polyline points="29.6,354.5 30.3,357 31,358.5 31.7,356.54 32.4,352.5 33.1,346.11 33.8,338.13 34.5,332.11 35.2,327.14 35.9,323.09 36.6,319.34 37.3,318.39 38,321.3 38.7,325.87 39.4,329.99 40.1,334.13 40.8,337.69 41.5,340.52 42.2,344.06 42.9,350.97 43.6,354.43 44.3,350.75 45,344.25 45.7,336.9 46.4,328.23 47.1,321.22 47.8,315.3 48.5,314.49 49.2,317.68 49.9,322.31 50.6,326.9 51.3,332.23 52,336.19 52.7,338.64 53.4,340.84 54.1,344.04 54.8,349.22 55.5,353.62 56.2,353.38 56.9,345.39 57.6,336.98 58.3,328.51 59,320.98 59.7,314.58 60.4,315.37 61.1,320.04 61.8,325.52 62.5,330.7 63.2,335.74 63.9,338.88 64.6,341.27 65.3,344.4 66,351.5 66.7,353.21 67.4,348.58 68.1,342.7 68.8,338.01 69.5,333.23 70.2,327.58 70.9,319.99 71.6,316 72.3,318 73,322.24 73.7,327.66 74.4,333.6 75.1,336.48 75.8,338.92 76.5,344.22 77.2,352.51 77.9,353.04 78.6,348.89 79.3,342.87 80,337 80.7,331.37 81.4,325.65 82.1,320.56 82.8,315.72 83.5,314.48 84.2,317.22 84.9,321.34 85.6,325.82 86.3,331.01 87,335.17 87.7,338.25 88.4,342 89.1,350.18 89.8,353.56 90.5,349.7 91.2,343.29 91.9,336.91 92.6,329.55 93.3,322.68 94,317.14 94.7,313.57 95.4,315.23 96.1,320.02 96.8,325.2 97.5,329.89 98.2,334.85 98.9,340.42 99.6,346.91 100.3,349.42 101,345.58 101.7,339.29 102.4,334.36 103.1,329.76 103.8,325.56 104.5,321.98 105.2,318.47 105.9,316.8 106.6,318.96 107.3,323.38 108,327.66 108.7,332.4 109.4,336.22 110.1,338.93 110.8,341.57 111.5,345.5 112.2,349.54 112.9,349.84 113.6,345.19 114.3,338.27 115,331.85 115.7,324.99 116.4,319.1 117.1,315.17 117.8,313.56 118.5,316.51 119.2,321.28 119.9,325.86 120.6,330.9 121.3,335.48 122,339.67 122.7,343.7 123.4,348.51 124.1,352.48 124.8,351.64 125.5,345.03 126.2,337.79 126.9,330.91 127.6,324.32 128.3,318.1 129,315.13 129.7,316.7 130.4,319.87 131.1,323.5 131.8,327.9 132.5,333.15 133.2,338.37 133.9,344.55 134.6,350.15 135.3,353.31 136,352.23 136.7,347.39 137.4,341.18 138.1,335.27 138.8,328.54 139.5,322.78 140.2,317.5 140.9,314.36 141.6,316.08 142.3,320.76 143,325.68 143.7,331.45 144.4,334.4 145.1,335.55 145.8,337 146.5,341.67 147.2,347.89 147.9,350.32 148.6,346.15 149.3,338.66 150,331.81 150.7,325.06 151.4,319.16 152.1,314.66 152.8,314.06 153.5,318.33 154.2,323.5 154.9,327.9 155.6,332.36 156.3,336.46 157,340.38 157.7,345.66 158.4,352.1 159.1,348.47 159.8,340.97 160.5,334.62 161.2,330.25 161.9,326.31 162.6,321.94 163.3,317.69 164,317.15 164.7,319.88 165.4,323.5 166.1,327.37 166.8,331.77 167.5,335.98 168.2,340.14 168.9,344.33 169.6,349.64 170.3,353.54 171,351.3 171.7,342.91 172.4,335.01 173.1,327.78 173.8,321.9 174.5,317.41 175.2,314.49 175.9,315.86 176.6,320.86 177.3,325.11 178,328.79 178.7,332 179.4,334.58 180.1,336.84 180.8,339.03 181.5,341.68 182.2,343.57 182.9,342.3 183.6,337.4 184.3,332.14 185,326.14 185.7,320.76 186.4,316.97 187.1,314.06 187.8,314.03 188.5,318.18 189.2,323.5 189.9,328.86 190.6,334.34 191.3,339.65 192,344.34 192.7,347.98 193.4,350.35 194.1,348.42 194.8,342.93 195.5,337 196.2,331.22 196.9,325.45 197.6,321.12 198.3,317.37 199,316.05 199.7,318.41 200.4,322.42 201.1,326.25 201.8,330.54 202.5,334.89 203.2,340.23 203.9,344.55 204.6,345.06 205.3,342.32 206,338.7 206.7,334.78 207.4,330.2 208.1,325.77 208.8,321.34 209.5,316.74 210.2,313.97 210.9,314.78 211.6,318.35 212.3,322.47 213,327.3 213.7,332.36 214.4,336.3 215.1,339.69 215.8,343.2 216.5,347.66 217.2,350.44 217.9,347.51 218.6,340.05 219.3,332.96 220,325.3 220.7,319.58 221.4,315.35 222.1,312.76 222.8,313.91 223.5,318.44 224.2,323.16 224.9,328.03 225.6,332.94 226.3,338.05 227,343.6 227.7,347.74 228.4,348.39 229.1,342.41 229.8,334.49 230.5,328.35 231.2,322.64 231.9,318.66 232.6,315.46 233.3,314.35 234,316.68 234.7,320.77 235.4,325 236.1,330.07 236.8,335.02 237.5,340.78 238.2,346.25 238.9,349.41 239.6,348.33 240.3,343.42 241,336.98 241.7,331.29 242.4,326 243.1,321.24 243.8,317.74 244.5,315.27 245.2,316.41 245.9,321.11 246.6,326.3 247.3,330.52 248,334.51 248.7,337.22 249.4,339.49 250.1,341.26 250.8,342.09 251.5,341.18 252.2,338.63 252.9,335.65 253.6,331.49 254.3,326.75 255,322.42 255.7,318.45 256.4,315 257.1,314.65 257.8,317.27 258.5,320.2 259.2,322.24 259.9,324.14 260.4,325.5" fill="none" stroke="#48c848" stroke-width="1.5" stroke-linejoin="round"/><polyline points="29.59,354.39 30.57,357 31.78,357.49 32.52,350.67 34.1,382.7 34.75,331.11 35.43,324.59 36.58,319.46 37.57,318.17 38.96,325.76 40.14,331.83 40.58,335.76 41.6,340.35 42.12,347.75 43.64,353.92 44.6,350.58 45.11,338.5 46.94,324.47 47.17,315.74 48.2,310.5 49.63,322.36 50.34,326.74 51.78,334.34 52.82,338.79 53.31,341.54 54.3,349.73 55.9,358 56.59,350.3 56.92,337.33 58.49,326.1 59.9,311.5 60.57,318.05 61.77,323.92 62.68,331.52 63.97,336.88 64.89,340.62 65.74,347.53 66.92,354.71 68.19,348.17 69.09,342.54 68.8,334.29 70.97,323.24 71.62,316.96 72.94,320.23 73.2,347 74.71,335.26 75.67,339.29 76.95,345.7 77.64,353.43 78.5,349.97 79.76,343.96 80.38,331.8 81.66,324.05 82.6,316.75 83.66,315.79 85,317.91 85.51,326.15 86.61,334.08 87.56,337.08 88.74,345.15 89.2,356.3 90.34,348.05 91.58,339.97 92.89,326.42 93.58,319.52 94.49,315.54 95.42,315.59 96.71,325.5 97.9,330.51 98.67,338.65 99.64,346.95 100.76,345.13 101.14,339.08 102.44,333.4 103.5,325.01 104.7,319.69 105.59,317.54 106.34,318.37 107.84,323.67 108.96,331.13 109.54,337.84 110.68,340.34 111.66,347 112.83,352.22 113.05,345.23 115.48,332.98 115.39,323.73 116.97,317.9 117.2,308.4 118.52,317.41 119.57,324.29 120.79,330.5 121.42,337.58 122.52,342.71 123.5,349.6 124.12,351.14 126.09,341.58 126.86,333.08 127.59,322.86 128.88,315.01 129.4,316.96 130.58,320.81 131.96,329.12 132.81,334.72 133.13,341.29 133.9,350.85 135.34,353.81 136.93,347.36 137.43,341.07 138.52,329.37 139.78,318.4 140.4,315.99 141.64,315.52 142.77,324.2 143.7,330.12 144.68,333.73 145.47,337.86 146.71,341.62 147.51,350.26 149.23,348.86 151.47,335.78 150.23,325.87 150.9,317.99 152.5,310.5 153.68,318.39 154.82,326.54 155.83,332.88 156.44,340.2 157.43,344.27 158.97,350.65 159.22,344.24 160.96,333.43 161.54,328.29 162.79,322.07 163.76,318 164.6,355.5 165.77,324.42 166.39,328.21 167.66,335.77 168.6,343.89 169.66,349.02 170.88,353.01 171.53,342.99 172.4,333.6 173.41,323.5 174.53,315.69 175.76,315.18 176.43,321.09 177.84,327.4 178.66,331.01 179.55,336.82 180.32,338.76 181.65,341.94 182.87,342.66 182.69,336.91 184.6,361.4 186.18,321.01 186.69,317.17 187.7,314.09 189.11,320.16 189.86,327.18 190.41,334.29 191.6,340.09 192.57,347.73 193.56,351.26 193.74,344.92 195.92,337.18 196.38,327.14 197.65,320.67 198.57,315.42 199.78,319.13 200.54,323.64 201.43,328.85 202.71,334.4 203.9,342.88 204.48,347.24 206.27,341.63 206.74,333.91 207.33,331.7 209.14,324.71 209.39,317.22 210.81,314.68 211.5,319.39 212.69,324.89 213.34,332.39 214.42,336.59 215.82,343.45 216.64,348.45 217.61,352.78 218.31,334.99 219.87,331.27 220.08,321.65 221.33,314.02 222.3,309.5 223.42,319.85 224.45,326.41 225.58,332.46 226.57,340.35 227.55,348.22 229.36,349.54 230.24,336.8 231.17,327.61 231.59,320.48 232.48,316.54 233.29,314.03 234.53,318.97 235.16,326.52 236.48,332.6 237.76,341.1 238.94,348.55 239.99,349.1 240.14,338.53 241.85,333.56 242.29,321.79 243.83,319.35 244.58,313.72 245.78,317.71 247.14,326.88 247.79,331.97 249.09,336.16 249.64,339.67 250.53,342.39 252.13,340.8 253.4,336.95 253.42,332.89 254.62,324.02 255.28,318.6 256.8,311.5 257.79,317.42 258.58,321.4 259.48,324.49" fill="none" stroke="#262626" stroke-width="0.8" stroke-dasharray="4,0.5,1,0.5" stroke-linejoin="round"/><polyline points="45.2,334.38 45.75,343.72 46.3,335.43 46.85,348.42" fill="none" stroke="#262626" stroke-width="0.5" stroke-dasharray="1.5,0.6"/><polyline points="56.3,336.94 56.85,353.44 57.4,334.05 57.95,353.95" fill="none" stroke="#262626" stroke-width="0.5" stroke-dasharray="1.5,0.6"/><polyline points="67.4,342.51 67.95,347.53 68.5,340.95 69.05,348.12 69.6,340.8" fill="none" stroke="#262626" stroke-width="0.5" stroke-dasharray="1.5,0.6"/><polyline points="73.2,336.34 73.75,346.35 74.3,336.91 74.85,343.77 75.4,338.16" fill="none" stroke="#262626" stroke-width="0.5" stroke-dasharray="1.5,0.6"/><polyline points="105,322.61 105.55,327.85 106.1,320.9 106.65,331.33 107.2,322.57" fill="none" stroke="#262626" stroke-width="0.5" stroke-dasharray="1.5,0.6"/><polyline points="111,339.17 111.55,349.86 112.1,340.98" fill="none" stroke="#262626" stroke-width="0.5" stroke-dasharray="1.5,0.6"/><polyline points="131,330.79 131.55,336.47 132.1,331.42 132.65,338.02" fill="none" stroke="#262626" stroke-width="0.5" stroke-dasharray="1.5,0.6"/><polyline points="136,343.91 136.55,352.05 137.1,342.05 137.65,352.26 138.2,344.66" fill="none" stroke="#262626" stroke-width="0.5" stroke-dasharray="1.5,0.6"/><polyline points="172,334.91 172.55,345.32 173.1,334.02 173.65,343.22" fill="none" stroke="#262626" stroke-width="0.5" stroke-dasharray="1.5,0.6"/><polyline points="208,317.86 208.55,331.5 209.1,321.93 209.65,330.15" fill="none" stroke="#262626" stroke-width="0.5" stroke-dasharray="1.5,0.6"/><polyline points="218.9,321.74 219.45,329.42 220,321.15 220.55,332.49 221.1,320.03" fill="none" stroke="#262626" stroke-width="0.5" stroke-dasharray="1.5,0.6"/><polyline points="229.9,318.95 230.45,324.65 231,318.39 231.55,325.7 232.1,317.23" fill="none" stroke="#262626" stroke-width="0.5" stroke-dasharray="1.5,0.6"/><polyline points="250,335.49 250.55,343.76 251.1,334.58 251.65,341.86 252.2,335.46" fill="none" stroke="#262626" stroke-width="0.5" stroke-dasharray="1.5,0.6"/></g><line x1="182.4" y1="307.1" x2="182.4" y2="383.8" stroke="#4646b4" stroke-width="1.7"/><text transform="translate(31.8,312.2) scale(0.9,1)" class="L">E</text><text transform="translate(15.799999999999999,345) rotate(-90)" text-anchor="middle" class="N V">NDVI</text><text x="137.1" y="409.1" text-anchor="middle" class="N">Time (Year)</text></g>
<g><rect x="313.5" y="298.8" width="228.9" height="87.6" fill="none" stroke="#c4c4c4" stroke-width="0.9"/><path d="M313.5 381.3h2M542.4 381.3h-2M313.5 366.96h2M542.4 366.96h-2M313.5 352.62h2M542.4 352.62h-2M313.5 338.28h2M542.4 338.28h-2M313.5 323.94h2M542.4 323.94h-2M313.5 309.6h2M542.4 309.6h-2M333.3 386.4v-2M333.3 298.8v2M374.15 386.4v-2M374.15 298.8v2M415 386.4v-2M415 298.8v2M455.85 386.4v-2M455.85 298.8v2M496.7 386.4v-2M496.7 298.8v2M537.55 386.4v-2M537.55 298.8v2" stroke="#9a9a9a" stroke-width="0.6" fill="none"/><text transform="translate(311.9,384.3) scale(0.1)" text-anchor="end" class="t">0.4</text><text transform="translate(311.9,369.96) scale(0.1)" text-anchor="end" class="t">0.5</text><text transform="translate(311.9,355.62) scale(0.1)" text-anchor="end" class="t">0.6</text><text transform="translate(311.9,341.28) scale(0.1)" text-anchor="end" class="t">0.7</text><text transform="translate(311.9,326.94) scale(0.1)" text-anchor="end" class="t">0.8</text><text transform="translate(311.9,312.6) scale(0.1)" text-anchor="end" class="t">0.9</text><text transform="translate(333.3,392.9) scale(0.1)" text-anchor="middle" class="t">2012.5</text><text transform="translate(374.15,392.9) scale(0.1)" text-anchor="middle" class="t">2013</text><text transform="translate(415,392.9) scale(0.1)" text-anchor="middle" class="t">2013.5</text><text transform="translate(455.85,392.9) scale(0.1)" text-anchor="middle" class="t">2014</text><text transform="translate(496.7,392.9) scale(0.1)" text-anchor="middle" class="t">2014.5</text><text transform="translate(537.55,392.9) scale(0.1)" text-anchor="middle" class="t">2015</text><g clip-path="url(#cF)"><polyline points="313.5,359.2 314.2,358.05 314.9,356.86 315.6,355.68 316.3,354.52 317,353.41 317.7,352.38 318.4,351.44 319.1,350.55 319.8,349.71 320.5,348.9 321.2,348.12 321.9,347.36 322.6,346.6 323.3,345.88 324,345.2 324.7,344.54 325.4,343.88 326.1,343.2 326.8,342.47 327.5,341.66 328.2,340.79 328.9,339.87 329.6,338.88 330.3,337.84 331,336.73 331.7,335.53 332.4,334.18 333.1,332.74 333.8,331.26 334.5,329.79 335.2,328.41 335.9,327 336.6,325.56 337.3,324.12 338,322.75 338.7,321.49 339.4,320.42 340.1,319.54 340.8,318.68 341.5,317.85 342.2,317.09 342.9,316.44 343.6,315.97 344.3,315.73 345,315.72 345.7,315.82 346.4,316.01 347.1,316.27 347.8,316.57 348.5,316.9 349.2,317.25 349.9,317.64 350.6,318.13 351.3,318.71 352,319.38 352.7,320.13 353.4,320.95 354.1,322 354.8,323.26 355.5,324.65 356.2,326.07 356.9,327.43 357.6,328.72 358.3,330.06 359,331.39 359.7,332.69 360.4,333.88 361.1,334.94 361.8,335.94 362.5,336.91 363.2,337.8 363.9,338.59 364.6,339.22 365.3,339.67 366,340 366.7,340.26 367.4,340.48 368.1,340.7 368.8,340.95 369.5,341.29 370.2,341.75 370.9,342.4 371.6,343.18 372.3,344.05 373,344.94 373.7,345.81 374.4,346.6 375.1,347.33 375.8,348.06 376.5,348.77 377.2,349.48 377.9,350.17 378.6,350.83 379.3,351.48 380,352.11 380.7,352.72 381.4,353.31 382.1,353.89 382.8,354.47 383.5,355.05 384.2,355.66 384.9,356.36 385.6,357.12 386.3,357.85 387,358.48 387.7,358.95 388.4,359.19 389.1,359.15 389.8,358.95 390.5,358.61 391.2,358.19 391.9,357.73 392.6,357.25 393.3,356.8 394,356.33 394.7,355.8 395.4,355.23 396.1,354.66 396.8,354.12 397.5,353.66 398.2,353.31 398.9,353 399.6,352.71 400.3,352.45 401,352.22 401.7,352.02 402.4,351.86 403.1,351.73 403.8,351.63 404.5,351.55 405.2,351.49 405.9,351.43 406.6,351.38 407.3,351.33 408,351.26 408.7,351.19 409.4,351.1 410.1,350.98 410.8,350.82 411.5,350.55 412.2,350.17 412.9,349.67 413.6,349.09 414.3,348.44 415,347.72 415.7,346.92 416.4,345.85 417.1,344.55 417.8,343.04 418.5,341.38 419.2,339.6 419.9,337.47 420.6,334.88 421.3,332.11 422,329.41 422.7,326.96 423.4,324.4 424.1,321.9 424.8,319.79 425.5,318.4 426.2,317.51 426.9,316.71 427.6,316 428.3,315.43 429,315 429.7,314.75 430.4,314.72 431.1,315.09 431.8,315.82 432.5,316.77 433.2,317.82 433.9,318.83 434.6,319.76 435.3,320.75 436,321.79 436.7,322.87 437.4,323.97 438.1,325.09 438.8,326.2 439.5,327.35 440.2,328.57 440.9,329.82 441.6,331.05 442.3,332.22 443,333.29 443.7,334.22 444.4,335.1 445.1,335.97 445.8,336.79 446.5,337.53 447.2,338.15 447.9,338.62 448.6,338.91 449.3,339.11 450,339.27 450.7,339.4 451.4,339.53 452.1,339.67 452.8,339.84 453.5,340.05 454.2,340.27 454.9,340.52 455.6,340.79 456.3,341.1 457,341.47 457.7,341.9 458.4,342.52 459.1,343.41 459.8,344.49 460.5,345.69 461.2,346.95 461.9,348.18 462.6,349.32 463.3,350.47 464,351.66 464.7,352.86 465.4,354.06 466.1,355.23 466.8,356.34 467.5,357.44 468.2,358.67 468.9,359.85 469.6,360.77 470.3,361.2 471,361.31 471.7,361.4 472.4,361.48 473.1,361.53 473.8,361.57 474.5,361.6 475.2,361.58 475.9,361.23 476.6,360.55 477.3,359.67 478,358.72 478.7,357.82 479.4,357.06 480.1,356.31 480.8,355.55 481.5,354.78 482.2,354 482.9,353.18 483.6,352.33 484.3,351.43 485,350.49 485.7,349.5 486.4,348.46 487.1,347.38 487.8,346.26 488.5,345.11 489.2,343.92 489.9,342.7 490.6,341.41 491.3,340.04 492,338.62 492.7,337.16 493.4,335.71 494.1,334.28 494.8,332.91 495.5,331.53 496.2,330.12 496.9,328.71 497.6,327.34 498.3,326.02 499,324.79 499.7,323.68 500.4,322.69 501.1,321.71 501.8,320.77 502.5,319.89 503.2,319.11 503.9,318.47 504.6,318 505.3,317.68 506,317.4 506.7,317.15 507.4,316.96 508.1,316.84 508.8,316.8 509.5,316.89 510.2,317.11 510.9,317.42 511.6,317.81 512.3,318.26 513,318.75 513.7,319.25 514.4,319.91 515.1,320.75 515.8,321.72 516.5,322.77 517.2,323.86 517.9,324.95 518.6,326.02 519.3,327.17 520,328.38 520.7,329.62 521.4,330.86 522.1,332.05 522.8,333.15 523.5,334.2 524.2,335.27 524.9,336.33 525.6,337.32 526.3,338.22 527,338.99 527.7,339.57 528.4,340.03 529.1,340.4 529.8,340.73 530.5,341.03 531.2,341.34 531.9,341.68 532.6,342.07 533.3,342.5 534,342.93 534.7,343.39 535.4,343.86 536.1,344.35 536.8,344.85 537.5,345.38 538.2,345.93 538.9,346.5 539.6,347.1 540.3,347.7 541,348.31 541.7,348.91 542.4,349.5" fill="none" stroke="#5cd85c" stroke-width="1.6" stroke-linejoin="round"/><polyline points="313.5,357 317.1,347.4 320.7,342.4 324.1,356 328.1,358.4 330.7,334.8 333.6,327 338.3,320.7 343,316.3 346.9,315.7 351.6,319.1 357.1,327.8 361.8,336.4 365,338.8 370.5,341.1 376,349.8 382.3,352.1 387.8,360 392.5,357.6 398.3,350.5 401.9,357.1 406.1,351.3 409.3,331.7 412.9,374.1 416.8,356.8 421.5,328.6 424.4,314.4 427.1,314.7 432.6,319.1 438.8,326.2 443.6,334.1 447.5,337.2 451.4,342.7 454.9,346.2 458.5,339.9 462.4,349 465.5,351.3 469.5,363.4 474.2,362.3 477.3,360.8 479.7,356.8 489.9,342.7 493.8,332 497.8,358.4 500.9,323.1 504.8,316.8 508.3,320.7 512.4,315.2 515.8,319.9 521.3,331.7 526.5,344.2 529.9,335.1 533.9,339.5 537,345.5 539.7,344.2 542.2,350.5" fill="none" stroke="#505050" stroke-width="0.85" stroke-dasharray="3,0.5,1,0.5" stroke-linejoin="round"/></g><line x1="393" y1="307.1" x2="393" y2="377.3" stroke="#4646b4" stroke-width="1.7"/><text transform="translate(317.2,314.2) scale(0.9,1)" class="L">F</text><text transform="translate(296.3,338.7) rotate(-90)" text-anchor="middle" class="N V">NDVI</text><text x="423.2" y="406.8" text-anchor="middle" class="N">Time (Year)</text></g>
<line x1="127.6" y1="433.1" x2="148.7" y2="433.1" stroke="#26dc34" stroke-width="2"/>
<text x="150" y="436.7" class="g">Wavelet Denoise</text>
<line x1="226.9" y1="433.1" x2="247.6" y2="433.1" stroke="#111" stroke-width="1.5" stroke-dasharray="4,1.9,1.1,1.9"/>
<text x="249.6" y="436.7" class="g">Original NDVI</text>
<line x1="311.8" y1="433.1" x2="333.3" y2="433.1" stroke="#1c1cc8" stroke-width="2.2"/>
<text x="334.9" y="436.7" class="g">Landslide Event</text>
</svg>
</body></html>
